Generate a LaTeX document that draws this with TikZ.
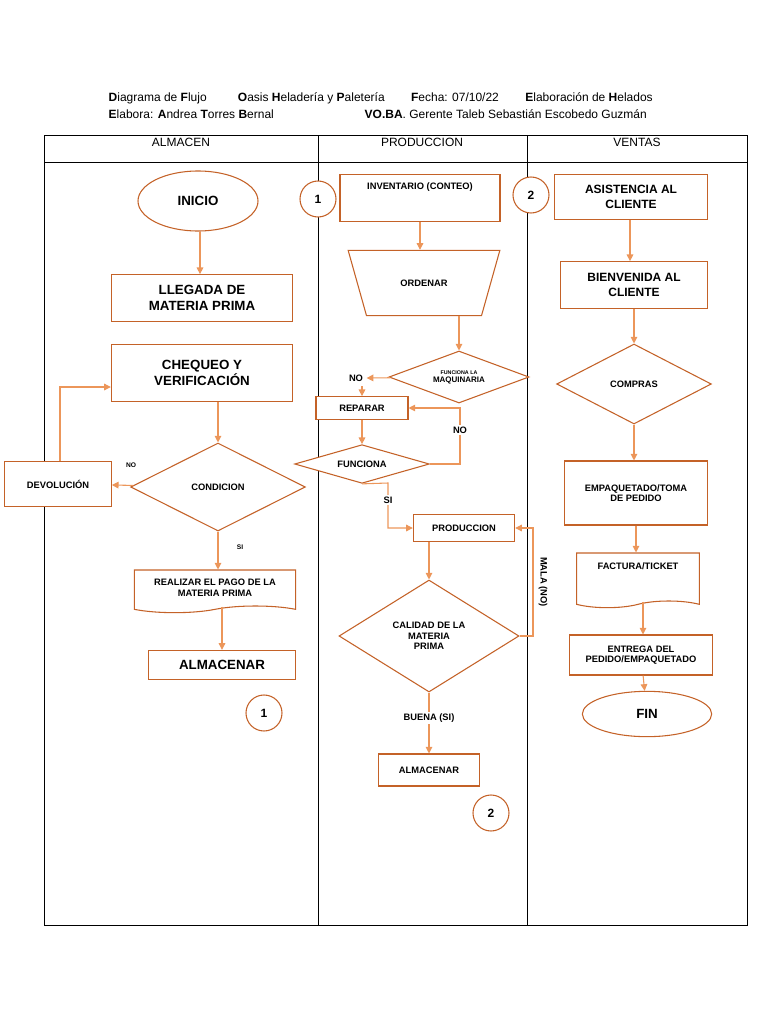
\documentclass[tikz,border=0pt]{standalone}
\usepackage{fontspec}
\setmainfont{Liberation Sans}
\usetikzlibrary{shapes.geometric,shapes.symbols,arrows.meta}
\definecolor{orng}{RGB}{196,98,40}
\definecolor{lorng}{RGB}{236,150,90}
\tikzset{
  box/.style={draw=orng,thick,fill=white,align=center,font=\bfseries\footnotesize,inner sep=1pt},
  dia/.style={draw=orng,thick,fill=white,diamond,aspect=2,align=center,font=\bfseries\scriptsize,inner sep=0pt},
  doc/.style={draw=orng,thick,fill=white,tape,tape bend top=none,align=center,font=\bfseries\scriptsize},
  circ/.style={draw=orng,thick,fill=white,circle,minimum size=27pt,font=\bfseries\small},
  arr/.style={draw=lorng,thick,-{Triangle[length=5pt,width=5pt]}},
  lbl/.style={font=\bfseries\scriptsize,fill=white,inner sep=1pt}
}
\begin{document}
\begin{tikzpicture}[x=0.75pt,y=-0.75pt]
      \useasboundingbox (0,0) rectangle (768,1024);
      % encabezado
      \node[anchor=west,font=\small] at (104,98) {\textbf{D}iagrama de \textbf{F}lujo\hspace{2.6em}\textbf{O}asis \textbf{H}eladería y \textbf{P}aletería\hspace{2.2em}\textbf{F}echa: 07/10/22\hspace{2.2em}\textbf{E}laboración de \textbf{H}elados};
      \node[anchor=west,font=\small] at (104,114) {\textbf{E}labora: \textbf{A}ndrea \textbf{T}orres \textbf{B}ernal};
      \node[anchor=west,font=\small] at (360,114) {\textbf{VO.BA}. Gerente Taleb Sebastián Escobedo Guzmán};
      % carriles
      \draw (44,135) rectangle (747,925);
      \draw (44,162) -- (747,162);
      \draw (318,135) -- (318,925);
      \draw (527,135) -- (527,925);
      \node[font=\small] at (181,142) {ALMACEN};
      \node[font=\small] at (422,142) {PRODUCCION};
      \node[font=\small] at (637,142) {VENTAS};
      % almacen
      \node[draw=orng,thick,ellipse,minimum width=90pt,minimum height=45pt,font=\bfseries\normalsize] (inicio) at (198,201) {INICIO};
      \node[box,minimum width=136pt,minimum height=35pt,font=\bfseries\normalsize] (llegada) at (202,298) {LLEGADA DE\\MATERIA PRIMA};
      \node[box,minimum width=136pt,minimum height=43pt,font=\bfseries\normalsize] (chequeo) at (202,373) {CHEQUEO Y\\VERIFICACIÓN};
      \node[dia,minimum width=131pt,minimum height=66pt] (condicion) at (218,487) {CONDICION};
      \node[box,minimum width=80pt,minimum height=34pt,font=\bfseries\scriptsize] (devol) at (58,484) {DEVOLUCIÓN};
      \node[doc,minimum width=121pt,minimum height=32pt] (pago) at (215,588) {REALIZAR EL PAGO DE LA\\MATERIA PRIMA};
      \node[box,minimum width=110pt,minimum height=22pt,font=\bfseries\normalsize] (alm1) at (222,665) {ALMACENAR};
      \node[circ] (c1a) at (264,713) {1};
      \draw[arr] (inicio.south -| 200,0) -- (llegada.north -| 200,0);
      \draw[arr] (chequeo.south -| condicion) -- (condicion);
      \draw[arr] (condicion) -- (devol);
      \draw[arr] (devol.north -| 60,0) |- (chequeo.west |- 0,387);
      \draw[arr] (condicion) -- (pago.north -| condicion);
      \draw[arr] (pago.south -| alm1) -- (alm1);
      \node[font=\bfseries\tiny] (no1) at (131,465) {NO};
      \node[font=\bfseries\tiny] (si1) at (240,547) {SI};
      % produccion
      \node[circ] (c1b) at (318,199) {1};
      \node[box,minimum width=120pt,minimum height=35pt,font=\bfseries\scriptsize,text depth=18pt] (inv) at (420,198) {INVENTARIO (CONTEO)};
      \node[draw=orng,thick,trapezium,shape border rotate=180,trapezium stretches=true,minimum width=114pt,minimum height=49pt,font=\bfseries\scriptsize] (ordenar) at (424,283) {ORDENAR};
      \node[dia,minimum width=105pt,minimum height=39pt] (maq) at (459,377) {{\fontsize{4}{5}\selectfont FUNCIONA LA}\\[-2pt]{\fontsize{6}{7}\selectfont MAQUINARIA}};
      \coordinate (pno) at (356,378);
      \node[box,minimum width=69pt,minimum height=17pt,font=\bfseries\scriptsize] (reparar) at (362,408) {REPARAR};
      \node[dia,minimum width=101pt,minimum height=29pt] (funciona) at (362,464) {FUNCIONA};
      \node[box,minimum width=76pt,minimum height=20pt,font=\bfseries\scriptsize] (prod) at (464,528) {PRODUCCION};
      \node[dia,minimum width=135pt,minimum height=84pt] (calidad) at (429,636) {CALIDAD DE LA\\MATERIA\\PRIMA};
      \node[box,minimum width=76pt,minimum height=24pt,font=\bfseries\scriptsize] (alm2) at (429,770) {ALMACENAR};
      \node[circ] (c2a) at (491,813) {2};
      \draw[arr] (inv) -- (ordenar.north -| inv);
      \draw[arr] (ordenar.south -| maq) -- (maq);
      \draw[arr] (maq) -- ([xshift=8pt]pno);
      \draw[arr] ([yshift=-6pt]pno -| reparar) -- (reparar);
      \draw[arr] (reparar) -- (funciona);
      \draw[arr] (funciona.east) -- (460,464) |- (reparar.east);
      \draw[arr] (funciona.south) -- (388,483) |- (prod.west);
      \draw[arr] (prod.south -| calidad) -- (calidad);
      \draw[arr] (calidad.east) -- (533,636) |- (prod.east);
      \draw[arr] (calidad) -- (alm2);
      \node[lbl] (no2) at (pno) {NO};
      \node[lbl] (no3) at (460,430) {NO};
      \node[lbl] (si2) at (388,500) {SI};
      \node[lbl,rotate=-90] (mala) at (543,582) {MALA (NO)};
      \node[lbl] (buena) at (429,718) {BUENA (SI)};
      % ventas
      \node[circ] (c2b) at (531,195) {2};
      \node[box,minimum width=115pt,minimum height=34pt,font=\bfseries\small] (asist) at (631,197) {ASISTENCIA AL\\CLIENTE};
      \node[box,minimum width=110pt,minimum height=35pt,font=\bfseries\small] (bienv) at (634,285) {BIENVENIDA AL\\CLIENTE};
      \node[dia,minimum width=116pt,minimum height=60pt] (compras) at (634,384) {COMPRAS};
      \node[box,minimum width=107pt,minimum height=48pt,font=\bfseries\scriptsize] (empaq) at (636,493) {EMPAQUETADO/TOMA\\DE PEDIDO};
      \node[doc,minimum width=92pt,minimum height=41pt] (factura) at (638,577) {FACTURA/TICKET\\[8pt]};
      \node[box,minimum width=107pt,minimum height=30pt,font=\bfseries\scriptsize] (entrega) at (641,655) {ENTREGA DEL\\PEDIDO/EMPAQUETADO};
      \node[draw=orng,thick,ellipse,minimum width=97pt,minimum height=34pt,font=\bfseries\normalsize] (fin) at (647,714) {FIN};
      \draw[arr] (asist.south -| 630,0) -- (bienv.north -| 630,0);
      \draw[arr] (bienv.south -| compras) -- (compras);
      \draw[arr] (compras) -- (empaq.north -| compras);
      \draw[arr] (empaq.south -| 636,0) -- (factura.north -| 636,0);
      \draw[arr] (factura.south -| 643,0) -- (entrega.north -| 643,0);
      \draw[arr] (entrega) -- (fin);
\end{tikzpicture}
\end{document}
